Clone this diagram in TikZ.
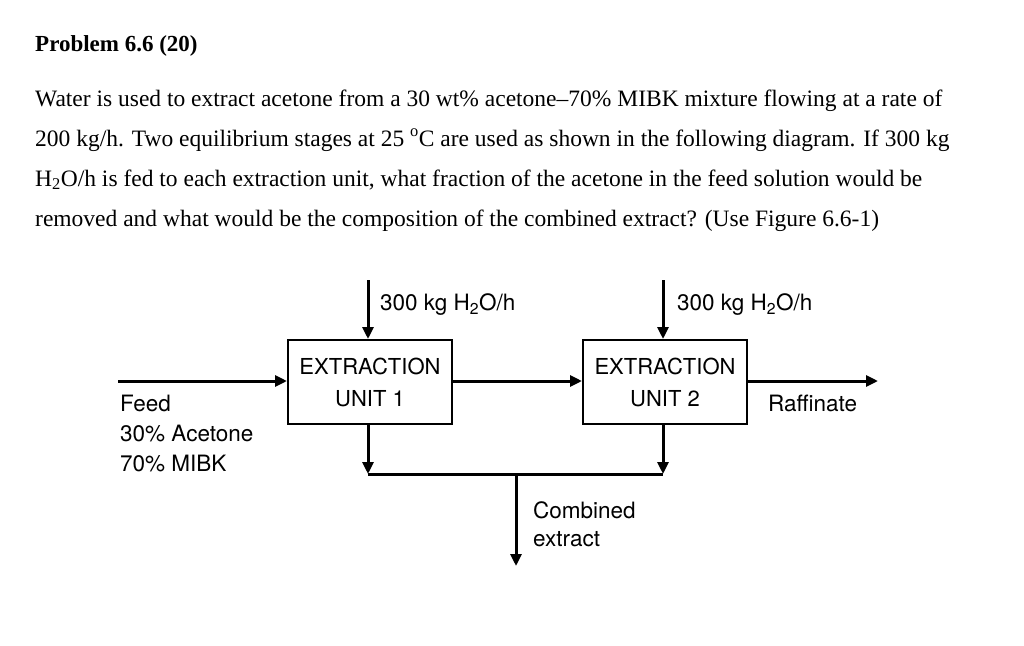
\documentclass[tikz,border=0pt]{standalone}
\usepackage{fontspec}
\setmainfont{Liberation Serif}
\newfontfamily\diag{TeX Gyre Heros}
\usetikzlibrary{arrows.meta}
\begin{document}
\begin{tikzpicture}[x=1pt,y=-1pt,
  txt/.style={anchor=base west,inner sep=0,font=\fontsize{23.5}{26}\selectfont},
  lab/.style={anchor=base west,inner sep=0,font=\diag\fontsize{22.5}{26}\selectfont},
  box/.style={draw,line width=2pt,minimum width=164pt,minimum height=84pt,inner sep=0,font=\diag\fontsize{22}{32}\selectfont,align=center},
  flow/.style={line width=3pt,-{Triangle[length=12pt,width=11pt]}}]
\useasboundingbox (0,0) rectangle (1024,645);
\node[txt,font=\bfseries\fontsize{23}{26}\selectfont] (t) at (35,51) {Problem 6.6 (20)};
\node[txt] (l1) at (35,106) {Water is used to extract acetone from a 30 wt\% acetone--70\% MIBK mixture flowing at a rate of};
\node[txt] (l2) at (35,146) {200 kg/h. Two equilibrium stages at 25 \textsuperscript{o}C are used as shown in the following diagram. If 300 kg};
\node[txt] (l3) at (35,186) {H\textsubscript{2}O/h is fed to each extraction unit, what fraction of the acetone in the feed solution would be};
\node[txt] (l4) at (35,226) {removed and what would be the composition of the combined extract? (Use Figure 6.6-1)};
\node[box] (u1) at (370,382) {EXTRACTION\\UNIT 1};
\node[box] (u2) at (665,382) {EXTRACTION\\UNIT 2};
\coordinate (f0) at (118,381);
\coordinate (r1) at (878,381);
\coordinate (w1) at (368,280);
\coordinate (w2) at (663,280);
\coordinate (b1) at (368,474);
\coordinate (b2) at (663,474);
\coordinate (m) at (516,474);
\coordinate (c) at (516,566);
\draw[flow] (f0) -- (u1.west |- f0);
\draw[flow] (u1.east |- f0) -- (u2.west |- f0);
\draw[flow] (u2.east |- f0) -- (r1);
\draw[flow] (w1) -- (w1 |- u1.north);
\draw[flow] (w2) -- (w2 |- u2.north);
\draw[flow] (b1 |- u1.south) -- (b1);
\draw[flow] (b2 |- u2.south) -- (b2);
\draw[line width=3pt] (b1) -- (b2);
\draw[flow] (m) -- (c);
\node[lab] (h1) at (380,310) {300 kg H\textsubscript{2}O/h};
\node[lab] (h2) at (677,310) {300 kg H\textsubscript{2}O/h};
\node[lab] (fd) at (120,411) {Feed};
\node[lab] (fa) at (120,441) {30\% Acetone};
\node[lab] (fm) at (120,471) {70\% MIBK};
\node[lab] (rf) at (768,411) {Raffinate};
\node[lab] (ce) at (533,518) {Combined};
\node[lab] (ex) at (533,546) {extract};
\end{tikzpicture}
\end{document}
